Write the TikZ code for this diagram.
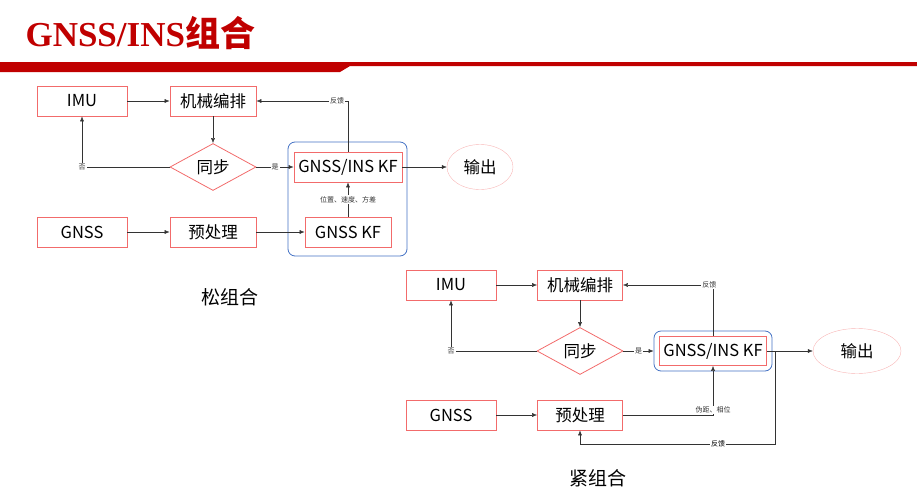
\documentclass[tikz,border=0pt]{standalone}
\usepackage{fontspec}
\setmainfont{Liberation Serif}
\newfontfamily\cjk{Noto Sans CJK SC}
\usetikzlibrary{shapes.geometric,arrows.meta}
\definecolor{boxred}{HTML}{F26B6B}
\definecolor{titred}{HTML}{C00000}
\definecolor{kfblue}{HTML}{4472C4}
\begin{document}
\begin{tikzpicture}[x=1pt,y=-1pt,
  bx/.style={draw=boxred,thick,minimum width=88pt,minimum height=30pt,inner sep=0pt,font=\cjk\fontsize{16.5}{16.5}\selectfont},
  dm/.style={diamond,aspect=1.85,draw=boxred,thick,minimum width=86pt,minimum height=47pt,inner sep=0pt,font=\cjk\fontsize{16.5}{16.5}\selectfont},
  el/.style={ellipse,draw=boxred!50,minimum height=45pt,inner sep=0pt,font=\cjk\fontsize{16.5}{16.5}\selectfont},
  grp/.style={draw=kfblue,thick,rounded corners=7pt},
  ar/.style={-{Latex[length=5pt,width=4pt]},black!80},
  lb/.style={fill=white,inner sep=1pt,font=\cjk\fontsize{7}{7}\selectfont},
  captxt/.style={font=\cjk\fontsize{19}{19}\selectfont}]
\useasboundingbox (0,0) rectangle (917,495);
\node[anchor=west,text=titred,font=\fontsize{35}{35}\selectfont\bfseries] (title) at (22,33) {GNSS/INS{\cjk\bfseries 组合}};
\fill[titred] (0,62) -- (917,62) -- (917,66) -- (350,66) -- (340,72) -- (0,72) -- cycle;
% left
\node[grp,minimum width=119pt,minimum height=114pt] (g1) at (347.5,199) {};
\node[bx,minimum width=90pt] (imu1) at (82,101) {IMU};
\node[bx,minimum width=86pt] (mech1) at (213,101) {机械编排};
\node[dm] (sync1) at (213,167) {同步};
\node[bx,minimum width=108pt] (kf1) at (348,167) {GNSS/INS KF};
\node[el,minimum width=66pt] (out1) at (480,167) {输出};
\node[bx,minimum width=90pt] (gnss1) at (82,232) {GNSS};
\node[bx,minimum width=86pt] (pre1) at (213,232) {预处理};
\node[bx,minimum width=86pt] (gkf1) at (348,232) {GNSS KF};
\draw[ar] (imu1) -- (mech1);
\draw[ar] (mech1) -- (sync1);
\draw[ar] (sync1) -- node[lb,pos=0.5]{是} (kf1);
\draw[ar] (kf1) -- (out1);
\draw[ar] (gnss1) -- (pre1);
\draw[ar] (pre1) -- (gkf1);
\draw[ar] (gkf1) -- node[lb]{位置、速度、方差} (kf1);
\draw[ar] (sync1.west) -| node[lb,pos=0.5]{否} (imu1.south);
\draw[ar] (kf1.north) |- node[lb,pos=0.56]{反馈} (mech1.east);
\node[captxt] (c1) at (230,297) {松组合};
% right
\node[grp,minimum width=118pt,minimum height=40pt] (g2) at (713,351) {};
\node[bx,minimum width=90pt] (imu2) at (451,285) {IMU};
\node[bx,minimum width=85pt] (mech2) at (580,285) {机械编排};
\node[dm] (sync2) at (580,351) {同步};
\node[bx,minimum width=107pt,minimum height=29pt] (kf2) at (713,351) {GNSS/INS KF};
\node[el,minimum width=88pt] (out2) at (857,351) {输出};
\node[bx,minimum width=90pt] (gnss2) at (451,415) {GNSS};
\node[bx,minimum width=85pt] (pre2) at (580,415) {预处理};
\coordinate (br) at (775,444);
\draw[ar] (imu2) -- (mech2);
\draw[ar] (mech2) -- (sync2);
\draw[ar] (sync2) -- node[lb]{是} (g2.west);
\draw[ar] (kf2) -- (out2);
\draw[ar] (gnss2) -- (pre2);
\draw[ar] (pre2.east) -| node[lb,pos=0.55]{伪距、相位} (kf2.south);
\draw[ar] (sync2.west) -| node[lb,pos=0.5]{否} (imu2.south);
\draw[ar] (kf2.north) |- node[lb,pos=0.52]{反馈} (mech2.east);
\draw[ar] (kf2.east) ++(8,0) coordinate (kr) -- (kr |- br) -| (pre2.south);
\node[lb] (fb3) at (718,444) {反馈};
\node[captxt] (c2) at (598,478) {紧组合};
\end{tikzpicture}
\end{document}
